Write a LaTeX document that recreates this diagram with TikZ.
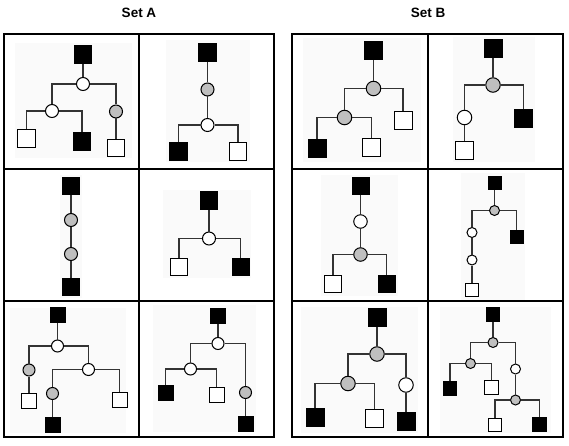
\documentclass[tikz,border=0pt]{standalone}
\usepackage{fontspec}
\setmainfont{Liberation Sans}
\newcommand\sqsz{17pt}
\newcommand\cisz{13pt}

\begin{document}
\begin{tikzpicture}[
  x=1pt, y=-1pt,
  every node/.style={inner sep=0pt, line width=1pt},
  title/.style={font=\bfseries\fontsize{13.5}{15}\selectfont},
  frame/.style={line width=2pt},
  backdrop/.style={fill=black!2},
  asq/.style={draw, fill=black, minimum size=\sqsz},
  usq/.style={draw, fill=white, minimum size=\sqsz},
  gci/.style={draw, circle, fill=gray!50, minimum size=\cisz},
  wci/.style={draw, circle, fill=white, minimum size=\cisz},
  link/.style={line width=1.2pt, black!80}
]
\useasboundingbox (0,0) rectangle (569,446);

% titles
\node[title] (titleA) at (139,13) {Set A};
\node[title] (titleB) at (428,13) {Set B};

% backdrops of the single trees
\fill[backdrop] (15,43) rectangle (132,158);
\fill[backdrop] (166,40) rectangle (250,162);
\fill[backdrop] (60,175) rectangle (82,298);
\fill[backdrop] (163,190) rectangle (251,278);
\fill[backdrop] (10,308) rectangle (126,433);
\fill[backdrop] (153,305) rectangle (256,432);
\fill[backdrop] (303,38) rectangle (421,162);
\fill[backdrop] (453,37) rectangle (535,162);
\fill[backdrop] (321,175) rectangle (398,296);
\fill[backdrop] (461,173) rectangle (525,300);
\fill[backdrop] (301,307) rectangle (418,433);
\fill[backdrop] (440,307) rectangle (551,433);

% frames
\draw[frame] (4,34) rectangle (274,437);
\draw[frame] (138.5,34) -- (138.5,437);
\draw[frame] (4,169) -- (274,169);
\draw[frame] (4,301) -- (274,301);
\draw[frame] (292,34) rectangle (563,437);
\draw[frame] (428,34) -- (428,437);
\draw[frame] (292,169) -- (563,169);
\draw[frame] (292,301) -- (563,301);

% Set A, first row
\begin{scope}
\renewcommand\sqsz{17.5pt}
\node[asq] (a1f) at (83,54.5) {};
\node[wci] (a1m) at (83,84) {};
\node[wci] (a1l) at (52,111) {};
\node[gci] (a1r) at (116,111.5) {};
\node[usq] (a1ll) at (26.5,138.5) {};
\node[asq] (a1lr) at (82,141.5) {};
\node[usq] (a1rc) at (116,148) {};
\draw[link] (a1m) -- (a1f);
\draw[link] (a1l) |- (a1m);
\draw[link] (a1r) |- (a1m);
\draw[link] (a1ll) |- (a1l);
\draw[link] (a1lr) |- (a1l);
\draw[link] (a1rc) -- (a1r);

\node[asq] (a2f) at (207.5,52.5) {};
\node[gci] (a2g) at (207.5,89.5) {};
\node[wci] (a2w) at (207.5,125) {};
\node[asq] (a2l) at (178.5,151.5) {};
\node[usq] (a2r) at (238,151.5) {};
\draw[link] (a2g) -- (a2f);
\draw[link] (a2w) -- (a2g);
\draw[link] (a2l) |- (a2w);
\draw[link] (a2r) |- (a2w);
\end{scope}

% Set A, second row
\node[asq] (a3t) at (71,186) {};
\node[gci] (a3g1) at (71,220) {};
\node[gci] (a3g2) at (71,254) {};
\node[asq] (a3b) at (71,287) {};
\draw[link] (a3g1) -- (a3t);
\draw[link] (a3g2) -- (a3g1);
\draw[link] (a3b) -- (a3g2);

\node[asq] (a4t) at (209,200.5) {};
\node[wci] (a4w) at (209,238.5) {};
\node[usq] (a4l) at (179,266.5) {};
\node[asq] (a4r) at (240.5,266.5) {};
\draw[link] (a4w) -- (a4t);
\draw[link] (a4l) |- (a4w);
\draw[link] (a4r) |- (a4w);

% Set A, third row
\begin{scope}
\renewcommand\sqsz{15pt}
\renewcommand\cisz{12pt}
\node[asq] (a5t) at (57.5,315) {};
\node[wci] (a5w) at (57.5,346) {};
\node[gci] (a5l) at (29,370) {};
\node[usq] (a5lc) at (29,400.5) {};
\node[wci] (a5r) at (88.5,369.5) {};
\node[gci] (a5rl) at (52.5,393.5) {};
\node[asq] (a5rlc) at (52.5,425) {};
\node[usq] (a5rr) at (119.5,399.5) {};
\draw[link] (a5w) -- (a5t);
\draw[link] (a5l) |- (a5w);
\draw[link] (a5r) |- (a5w);
\draw[link] (a5lc) -- (a5l);
\draw[link] (a5rl) |- (a5r);
\draw[link] (a5rr) |- (a5r);
\draw[link] (a5rlc) -- (a5rl);

\node[asq] (a6t) at (218,316) {};
\node[wci] (a6w) at (218,343.5) {};
\node[wci] (a6l) at (190.5,369) {};
\node[asq] (a6ll) at (165.5,393) {};
\node[usq] (a6lr) at (216.5,395) {};
\node[gci] (a6r) at (245.5,392.5) {};
\node[asq] (a6rc) at (245.5,423.5) {};
\draw[link] (a6w) -- (a6t);
\draw[link] (a6l) |- (a6w);
\draw[link] (a6r) |- (a6w);
\draw[link] (a6ll) |- (a6l);
\draw[link] (a6lr) |- (a6l);
\draw[link] (a6rc) -- (a6r);
\end{scope}

% Set B, first row
\begin{scope}
\renewcommand\sqsz{18pt}
\renewcommand\cisz{14.5pt}
\node[asq] (b1t) at (373.5,50.5) {};
\node[gci] (b1g) at (373.5,88.5) {};
\node[gci] (b1l) at (344.5,117.5) {};
\node[usq] (b1r) at (403,121) {};
\node[asq] (b1ll) at (317,149) {};
\node[usq] (b1lr) at (371.5,148) {};
\draw[link] (b1g) -- (b1t);
\draw[link] (b1l) |- (b1g);
\draw[link] (b1r) |- (b1g);
\draw[link] (b1ll) |- (b1l);
\draw[link] (b1lr) |- (b1l);

\node[asq] (b2t) at (493,49) {};
\node[gci] (b2g) at (493,85) {};
\node[wci] (b2l) at (464.5,117.5) {};
\node[usq] (b2lc) at (464.5,150.5) {};
\node[asq] (b2r) at (523.5,119) {};
\draw[link] (b2g) -- (b2t);
\draw[link] (b2l) |- (b2g);
\draw[link] (b2r) |- (b2g);
\draw[link] (b2lc) -- (b2l);
\end{scope}

% Set B, second row
\begin{scope}
\renewcommand\cisz{13.5pt}
\node[asq] (b3t) at (360.5,186.5) {};
\node[wci] (b3w) at (360.5,221.5) {};
\node[gci] (b3g) at (360.5,254.5) {};
\node[usq] (b3l) at (333,283.5) {};
\node[asq] (b3r) at (386.5,283.5) {};
\draw[link] (b3w) -- (b3t);
\draw[link] (b3g) -- (b3w);
\draw[link] (b3l) |- (b3g);
\draw[link] (b3r) |- (b3g);
\end{scope}

\begin{scope}
\renewcommand\sqsz{13pt}
\renewcommand\cisz{10pt}
\node[asq] (b4t) at (494.5,183.5) {};
\node[gci] (b4g) at (494.5,210.5) {};
\node[wci] (b4l1) at (472,232.5) {};
\node[wci] (b4l2) at (472,260) {};
\node[usq] (b4lc) at (472,290) {};
\node[asq] (b4r) at (516.5,236.5) {};
\draw[link] (b4g) -- (b4t);
\draw[link] (b4l1) |- (b4g);
\draw[link] (b4r) |- (b4g);
\draw[link] (b4l2) -- (b4l1);
\draw[link] (b4lc) -- (b4l2);
\end{scope}

% Set B, third row
\begin{scope}
\renewcommand\sqsz{18pt}
\renewcommand\cisz{14.5pt}
\node[asq] (b5t) at (377,317.5) {};
\node[gci] (b5g) at (377,354) {};
\node[gci] (b5l) at (348,383.5) {};
\node[asq] (b5ll) at (315,417) {};
\node[usq] (b5lr) at (374.5,418) {};
\node[wci] (b5r) at (406,385) {};
\node[asq] (b5rc) at (406,421.5) {};
\draw[link] (b5g) -- (b5t);
\draw[link] (b5l) |- (b5g);
\draw[link] (b5r) |- (b5g);
\draw[link] (b5ll) |- (b5l);
\draw[link] (b5lr) |- (b5l);
\draw[link] (b5rc) -- (b5r);
\end{scope}

\begin{scope}
\renewcommand\sqsz{13.5pt}
\renewcommand\cisz{10pt}
\node[asq] (b6t) at (493,314.5) {};
\node[gci] (b6g) at (493,342.5) {};
\node[gci] (b6l) at (470.5,363.5) {};
\node[asq] (b6ll) at (450,388.5) {};
\node[usq] (b6lr) at (491.5,387.5) {};
\node[wci] (b6r) at (515.5,369) {};
\node[gci] (b6rg) at (515.5,400) {};
\node[usq] (b6rgl) at (495,425) {};
\node[asq] (b6rgr) at (539.5,424.5) {};
\draw[link] (b6g) -- (b6t);
\draw[link] (b6l) |- (b6g);
\draw[link] (b6r) |- (b6g);
\draw[link] (b6ll) |- (b6l);
\draw[link] (b6lr) |- (b6l);
\draw[link] (b6rg) -- (b6r);
\draw[link] (b6rgl) |- (b6rg);
\draw[link] (b6rgr) |- (b6rg);
\end{scope}
\end{tikzpicture}
\end{document}
